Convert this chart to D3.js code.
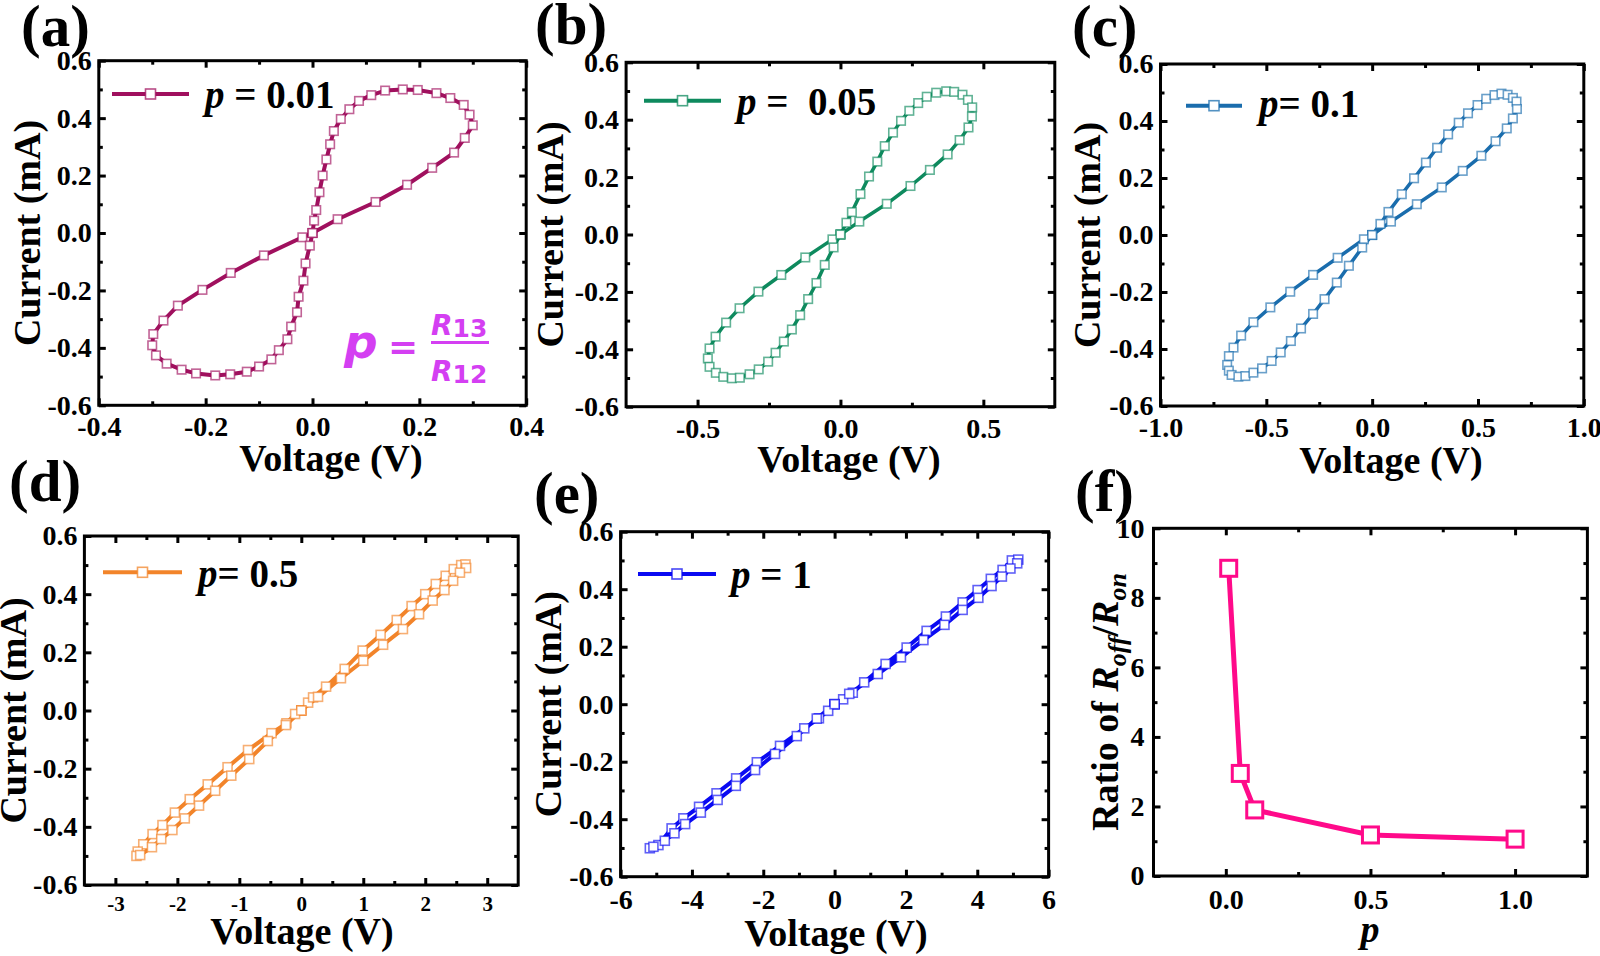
<!DOCTYPE html>
<html>
<head>
<meta charset="utf-8">
<script src="https://cdn.jsdelivr.net/npm/d3@7"></script>
<style>
  body { margin: 0; background: #fff; }
  svg { display: block; }
</style>
</head>
<body>
<div id="fig"></div>
<script>
// I-V loops, points are [voltage (V), current (mA)] in sweep order
var loopA = [[0,0],[0.003,0.043],[0.007,0.080],[0.013,0.142],[0.019,0.200],[0.026,0.256],[0.033,0.309],[0.040,0.355],[0.053,0.397],[0.069,0.431],[0.087,0.460],[0.110,0.480],[0.136,0.496],[0.169,0.500],[0.197,0.498],[0.232,0.487],[0.258,0.470],[0.283,0.446],[0.294,0.412],[0.300,0.375],[0.285,0.331],[0.265,0.280],[0.224,0.227],[0.177,0.168],[0.118,0.108],[0.047,0.048],[0,0],
  [-0.019,-0.015],[-0.091,-0.078],[-0.153,-0.139],[-0.206,-0.198],[-0.252,-0.253],[-0.279,-0.305],[-0.298,-0.352],[-0.300,-0.391],[-0.293,-0.426],[-0.273,-0.455],[-0.245,-0.476],[-0.218,-0.489],[-0.182,-0.496],[-0.154,-0.492],[-0.123,-0.483],[-0.100,-0.465],[-0.077,-0.440],[-0.063,-0.408],[-0.047,-0.370],[-0.040,-0.326],[-0.029,-0.276],[-0.026,-0.222],[-0.017,-0.166],[-0.013,-0.106],[-0.005,-0.044],[0,0]]

var loopB = [[0,0],[0.021,0.041],[0.040,0.078],[0.070,0.141],[0.100,0.202],[0.129,0.254],[0.155,0.308],[0.184,0.355],[0.212,0.396],[0.241,0.431],[0.272,0.458],[0.302,0.480],[0.335,0.494],[0.370,0.499],[0.398,0.497],[0.427,0.487],[0.446,0.469],[0.461,0.443],[0.460,0.411],[0.448,0.373],[0.417,0.329],[0.375,0.279],[0.313,0.225],[0.245,0.169],[0.162,0.107],[0.066,0.045],[0,0],
  [-0.028,-0.017],[-0.123,-0.080],[-0.207,-0.141],[-0.287,-0.199],[-0.353,-0.257],[-0.400,-0.307],[-0.437,-0.356],[-0.458,-0.397],[-0.464,-0.432],[-0.458,-0.461],[-0.436,-0.482],[-0.410,-0.496],[-0.380,-0.501],[-0.352,-0.499],[-0.318,-0.487],[-0.286,-0.470],[-0.253,-0.443],[-0.227,-0.412],[-0.198,-0.373],[-0.170,-0.331],[-0.141,-0.281],[-0.113,-0.225],[-0.084,-0.169],[-0.055,-0.106],[-0.024,-0.045],[0,0]]

var loopC = [[0,0],[0.039,0.039],[0.077,0.081],[0.140,0.143],[0.198,0.199],[0.254,0.254],[0.307,0.306],[0.359,0.353],[0.409,0.394],[0.453,0.427],[0.498,0.456],[0.539,0.478],[0.578,0.491],[0.611,0.496],[0.640,0.492],[0.665,0.481],[0.682,0.468],[0.684,0.442],[0.665,0.409],[0.636,0.374],[0.583,0.329],[0.516,0.278],[0.428,0.225],[0.329,0.167],[0.211,0.108],[0.089,0.047],[0,0],
  [-0.039,-0.015],[-0.163,-0.080],[-0.279,-0.140],[-0.387,-0.199],[-0.481,-0.254],[-0.561,-0.306],[-0.619,-0.353],[-0.655,-0.395],[-0.677,-0.425],[-0.685,-0.456],[-0.677,-0.476],[-0.664,-0.491],[-0.632,-0.497],[-0.599,-0.495],[-0.561,-0.483],[-0.520,-0.468],[-0.475,-0.442],[-0.432,-0.412],[-0.384,-0.372],[-0.336,-0.328],[-0.279,-0.277],[-0.225,-0.225],[-0.167,-0.167],[-0.110,-0.108],[-0.047,-0.044],[0,0]]

var loopD = [[0,0],[0.11,0.027],[0.19,0.045],[0.40,0.082],[0.70,0.143],[0.99,0.206],[1.28,0.260],[1.54,0.311],[1.78,0.359],[2.00,0.400],[2.17,0.435],[2.33,0.463],[2.46,0.486],[2.58,0.500],[2.65,0.502],
  [2.66,0.490],[2.56,0.474],[2.45,0.446],[2.31,0.414],[2.12,0.378],[1.90,0.331],[1.64,0.280],[1.32,0.226],[1.00,0.171],[0.64,0.111],[0.27,0.047],[0,0],
  [-0.10,-0.012],[-0.24,-0.044],[-0.48,-0.078],[-0.86,-0.136],[-1.19,-0.195],[-1.51,-0.254],[-1.80,-0.305],[-2.04,-0.351],[-2.24,-0.394],[-2.40,-0.425],[-2.55,-0.460],[-2.64,-0.485],[-2.66,-0.500],
  [-2.60,-0.497],[-2.41,-0.470],[-2.26,-0.442],[-2.08,-0.411],[-1.88,-0.371],[-1.65,-0.327],[-1.39,-0.276],[-1.13,-0.224],[-0.84,-0.167],[-0.54,-0.105],[-0.25,-0.050],[0,0]]

var loopE = [[0,0],[0.24,0.017],[0.51,0.040],[0.83,0.076],[1.43,0.140],[2.02,0.197],[2.58,0.255],[3.12,0.305],[3.59,0.354],[4.01,0.397],[4.38,0.436],[4.71,0.467],[4.97,0.500],[5.15,0.503],
  [5.12,0.490],[4.93,0.472],[4.69,0.444],[4.40,0.411],[4.03,0.370],[3.59,0.328],[3.08,0.276],[2.49,0.223],[1.86,0.163],[1.21,0.105],[0.41,0.036],[0,0],
  [-0.18,-0.023],[-0.44,-0.049],[-0.85,-0.084],[-1.53,-0.145],[-2.18,-0.202],[-2.76,-0.258],[-3.31,-0.310],[-3.80,-0.357],[-4.24,-0.397],[-4.57,-0.432],[-4.94,-0.490],[-5.18,-0.501],
  [-5.08,-0.496],[-4.76,-0.475],[-4.49,-0.449],[-4.19,-0.417],[-3.75,-0.377],[-3.28,-0.333],[-2.77,-0.284],[-2.23,-0.229],[-1.67,-0.173],[-1.06,-0.111],[-0.50,-0.050],[0,0]]

// panel (f)
var ratioP = [0.01, 0.05, 0.1, 0.5, 1]
var ratioVal = [8.85, 2.95, 1.9, 1.18, 1.06]

// ticks
var currentTicks = [-0.6, -0.4, -0.2, 0, 0.2, 0.4, 0.6]
var currentMinor = [-0.5, -0.3, -0.1, 0.1, 0.3, 0.5]
var aXTicks = [-0.4, -0.2, 0, 0.2, 0.4], aXMinor = [-0.3, -0.1, 0.1, 0.3]
var bXTicks = [-0.5, 0, 0.5], bXMinor = [-0.25, 0.25]
var cXTicks = [-1, -0.5, 0, 0.5, 1], cXMinor = [-0.75, -0.25, 0.25, 0.75]
var dXTicks = [-3, -2, -1, 0, 1, 2, 3], dXMinor = [-2.5, -1.5, -0.5, 0.5, 1.5, 2.5]
var eXTicks = [-6, -4, -2, 0, 2, 4, 6], eXMinor = [-5, -3, -1, 1, 3, 5]
var fXTicks = [0, 0.5, 1], fXMinor = [0.25, 0.75]
var fYTicks = [0, 2, 4, 6, 8, 10], fYMinor = [1, 3, 5, 7, 9]

var legendP = ["0.01", " 0.05", "0.1", "0.5", "1"]

var serif = "'Liberation Serif', 'Times New Roman', serif"
var fix1 = d => d.toFixed(1)
var int0 = d => String(d)

var svg = d3.select("#fig").append("svg")
  .attr("width", 1600).attr("height", 956)
  .style("font-family", serif)

function drawFrame(cfg, x, y){
  var g = svg.append("g")
  var L = cfg.box[0], T = cfg.box[1], R = cfg.box[2], B = cfg.box[3]

  function ax(axis, tr, vals, size, fmt, fs, pad){
    var a = g.append("g").attr("transform", tr)
      .call(axis.tickValues(vals).tickSize(-size).tickPadding(pad).tickFormat(fmt))
    a.select(".domain").remove()
    a.selectAll("line").attr("stroke", "#000").attr("stroke-width", 3)
    a.selectAll("text").attr("font-family", serif).attr("font-weight", "bold")
      .attr("font-size", fs).attr("fill", "#000")
    return a
  }
  var blank = () => ""
  // minor ticks on all four sides
  ax(d3.axisBottom(x), `translate(0,${B})`, cfg.xMinor, 4, blank, 1, 0)
  ax(d3.axisTop(x), `translate(0,${T})`, cfg.xMinor, 4, blank, 1, 0)
  ax(d3.axisLeft(y), `translate(${L},0)`, cfg.yMinor, 4, blank, 1, 0)
  ax(d3.axisRight(y), `translate(${R},0)`, cfg.yMinor, 4, blank, 1, 0)
  // major ticks
  ax(d3.axisBottom(x), `translate(0,${B})`, cfg.xTicks, 7, cfg.xFmt, cfg.xFs, cfg.xPad)
  ax(d3.axisTop(x), `translate(0,${T})`, cfg.xTicks, 7, blank, 1, 0)
  ax(d3.axisLeft(y), `translate(${L},0)`, cfg.yTicks, 7, cfg.yFmt, 28, cfg.yPad)
  ax(d3.axisRight(y), `translate(${R},0)`, cfg.yTicks, 7, blank, 1, 0)

  g.append("rect")
    .attr("x", L).attr("y", T).attr("width", R - L).attr("height", B - T)
    .attr("fill", "none").attr("stroke", "#000").attr("stroke-width", 3)

  // panel letter
  svg.append("text").attr("x", cfg.lab[0]).attr("y", cfg.lab[1])
    .attr("font-size", 59).attr("font-weight", "bold").text("(" + cfg.id + ")")
}

function makeLoop(cfg, loop, pText){
  var x = d3.scaleLinear().domain(cfg.xDom).range([cfg.box[0], cfg.box[2]])
  var y = d3.scaleLinear().domain([-0.6, 0.6]).range([cfg.box[3], cfg.box[1]])
  drawFrame(cfg, x, y)

  var line = d3.line().x(d => x(d[0])).y(d => y(d[1]))
  svg.append("path").datum(loop)
    .attr("fill", "none").attr("stroke", cfg.color)
    .attr("stroke-width", cfg.lw).attr("stroke-linejoin", "round")
    .attr("d", line)

  var s = cfg.ms
  svg.append("g").selectAll("rect").data(loop).join("rect")
    .attr("x", d => x(d[0]) - s / 2).attr("y", d => y(d[1]) - s / 2)
    .attr("width", s).attr("height", s)
    .attr("fill", "#fff").attr("stroke", cfg.color)
    .attr("stroke-opacity", 0.65).attr("stroke-width", 1.6)

  // axis titles
  svg.append("text").attr("x", cfg.xt[0]).attr("y", cfg.xt[1])
    .attr("text-anchor", "middle").attr("font-size", 38).attr("font-weight", "bold")
    .text("Voltage (V)")
  svg.append("text")
    .attr("transform", `translate(${cfg.yt},${(cfg.box[1] + cfg.box[3]) / 2}) rotate(-90)`)
    .attr("text-anchor", "middle").attr("font-size", 38).attr("font-weight", "bold")
    .text("Current (mA)")

  // legend
  var lg = cfg.leg
  svg.append("line").attr("x1", lg[0]).attr("x2", lg[1]).attr("y1", lg[2]).attr("y2", lg[2])
    .attr("stroke", cfg.color).attr("stroke-width", 4)
  var mx = (lg[0] + lg[1]) / 2
  svg.append("rect").attr("x", mx - 5).attr("y", lg[2] - 5).attr("width", 10).attr("height", 10)
    .attr("fill", "#fff").attr("stroke", cfg.color).attr("stroke-opacity", 0.75).attr("stroke-width", 1.6)
  var t = svg.append("text").attr("x", lg[3]).attr("y", lg[4])
    .attr("font-size", 39).attr("font-weight", "bold").attr("xml:space", "preserve")
  t.append("tspan").attr("font-style", "italic").text("p")
  t.append("tspan").text(cfg.eq + pText)
}

makeLoop({id: "a", box: [98.8, 60.7, 526.2, 405.3], xDom: [-0.4, 0.4], color: "#a0105e", lw: 4, ms: 8.5,
  xTicks: aXTicks, xMinor: aXMinor, yTicks: currentTicks, yMinor: currentMinor,
  xFmt: fix1, yFmt: fix1, xFs: 28, xPad: 11, yPad: 7,
  lab: [21, 46], xt: [331, 471], yt: 40, leg: [112, 189, 94, 205, 108], eq: " = "}, loopA, legendP[0])

makeLoop({id: "b", box: [626.1, 62.3, 1054.8, 406.7], xDom: [-0.75, 0.75], color: "#0e8a5e", lw: 3.5, ms: 8.5,
  xTicks: bXTicks, xMinor: bXMinor, yTicks: currentTicks, yMinor: currentMinor,
  xFmt: fix1, yFmt: fix1, xFs: 28, xPad: 11, yPad: 7,
  lab: [535, 44], xt: [849, 472], yt: 563, leg: [644, 721, 100.7, 737, 115], eq: " = "}, loopB, legendP[1])

makeLoop({id: "c", box: [1160.5, 64, 1583.8, 406], xDom: [-1, 1], color: "#1a6dad", lw: 3.5, ms: 8.5,
  xTicks: cXTicks, xMinor: cXMinor, yTicks: currentTicks, yMinor: currentMinor,
  xFmt: fix1, yFmt: fix1, xFs: 28, xPad: 11, yPad: 7,
  lab: [1072, 46], xt: [1391, 473], yt: 1100, leg: [1186, 1242, 105.7, 1259, 117], eq: "= "}, loopC, legendP[2])

makeLoop({id: "d", box: [84.4, 536, 518.2, 885], xDom: [-3.5, 3.5], color: "#f2842a", lw: 4, ms: 9,
  xTicks: dXTicks, xMinor: dXMinor, yTicks: currentTicks, yMinor: currentMinor,
  xFmt: int0, yFmt: fix1, xFs: 21, xPad: 11, yPad: 7,
  lab: [9, 501], xt: [302, 944], yt: 26, leg: [103, 182, 572.3, 198, 587], eq: "= "}, loopD, legendP[3])

makeLoop({id: "e", box: [620.6, 531.7, 1048.6, 876.7], xDom: [-6, 6], color: "#0a0af2", lw: 4, ms: 9,
  xTicks: eXTicks, xMinor: eXMinor, yTicks: currentTicks, yMinor: currentMinor,
  xFmt: int0, yFmt: fix1, xFs: 28, xPad: 12, yPad: 7,
  lab: [534, 513], xt: [836, 946], yt: 561, leg: [638, 716, 574, 731, 588], eq: " = "}, loopE, legendP[4])

// formula in panel (a)
var fc = "#d43ff2"
var sans = "'DejaVu Sans', 'Open Sans', sans-serif"
svg.append("text").attr("x", 344).attr("y", 358).attr("font-family", sans)
  .attr("font-size", 47).attr("font-weight", "bold").attr("font-style", "italic")
  .attr("fill", fc).text("p")
svg.append("text").attr("x", 388).attr("y", 359).attr("font-family", sans)
  .attr("font-size", 36).attr("font-weight", "bold").attr("fill", fc).text("=")
svg.append("line").attr("x1", 431).attr("x2", 489).attr("y1", 342.5).attr("y2", 342.5)
  .attr("stroke", fc).attr("stroke-width", 3)
function rsub(xp, yp, sub){
  var t = svg.append("text").attr("x", xp).attr("y", yp).attr("font-family", sans)
    .attr("font-weight", "bold").attr("fill", fc)
  t.append("tspan").attr("font-size", 28).attr("font-style", "italic").text("R")
  t.append("tspan").attr("font-size", 25).attr("dy", 2).text(sub)
}
rsub(431, 335, "13")
rsub(431, 381, "12")

// panel (f): ratio vs p
var fcfg = {id: "f", box: [1153.5, 528.3, 1587.4, 876], xTicks: fXTicks, xMinor: fXMinor,
  yTicks: fYTicks, yMinor: fYMinor, xFmt: fix1, yFmt: int0, xFs: 28, xPad: 13, yPad: 9, lab: [1075, 511]}
var fx = d3.scaleLinear().domain([-0.25, 1.25]).range([fcfg.box[0], fcfg.box[2]])
var fy = d3.scaleLinear().domain([0, 10]).range([fcfg.box[3], fcfg.box[1]])
drawFrame(fcfg, fx, fy)
var fColor = "#ff0a8a"
var fData = ratioP.map((p, i) => [p, ratioVal[i]])
svg.append("path").datum(fData)
  .attr("fill", "none").attr("stroke", fColor).attr("stroke-width", 5)
  .attr("stroke-linejoin", "round")
  .attr("d", d3.line().x(d => fx(d[0])).y(d => fy(d[1])))
svg.append("g").selectAll("rect").data(fData).join("rect")
  .attr("x", d => fx(d[0]) - 8).attr("y", d => fy(d[1]) - 8)
  .attr("width", 16).attr("height", 16)
  .attr("fill", "#fff").attr("stroke", fColor).attr("stroke-width", 3)

svg.append("text").attr("x", 1370).attr("y", 942).attr("text-anchor", "middle")
  .attr("font-size", 38).attr("font-weight", "bold").attr("font-style", "italic").text("p")
var ft = svg.append("text")
  .attr("transform", "translate(1118,702) rotate(-90)")
  .attr("text-anchor", "middle").attr("font-size", 38).attr("font-weight", "bold")
ft.append("tspan").text("Ratio of ")
ft.append("tspan").attr("font-style", "italic").text("R")
ft.append("tspan").attr("font-style", "italic").attr("font-size", 26).attr("dy", 8).text("off")
ft.append("tspan").attr("dy", -8).text("/")
ft.append("tspan").attr("font-style", "italic").text("R")
ft.append("tspan").attr("font-style", "italic").attr("font-size", 26).attr("dy", 8).text("on")
</script>
</body>
</html>
